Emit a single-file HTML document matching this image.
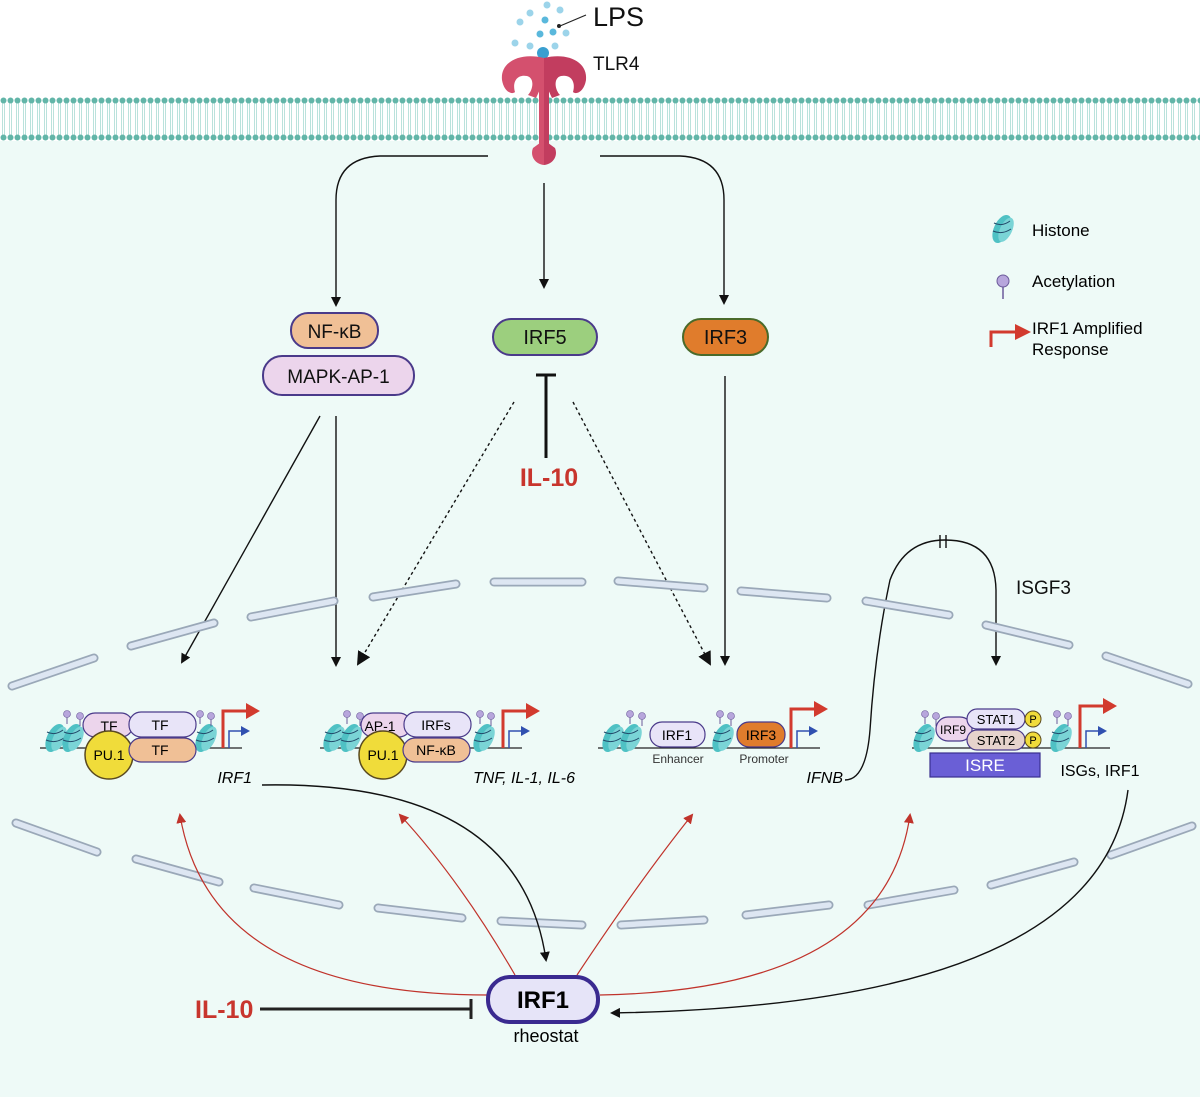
<!DOCTYPE html>
<html><head><meta charset="utf-8"><style>
html,body{margin:0;padding:0;background:#fff}
svg{display:block;font-family:"Liberation Sans",sans-serif}
</style></head><body>
<svg width="1200" height="1097" viewBox="0 0 1200 1097" xmlns="http://www.w3.org/2000/svg">
<defs>
<pattern id="lip" x="0" y="97" width="7" height="44" patternUnits="userSpaceOnUse">
<line x1="2.5" y1="4" x2="2.5" y2="40" stroke="#a8dbd4" stroke-width="0.8"/>
<line x1="4.5" y1="4" x2="4.5" y2="40" stroke="#a8dbd4" stroke-width="0.8"/>
<circle cx="3.5" cy="3.5" r="3" fill="#62b5a8"/>
<circle cx="3.5" cy="40.5" r="3" fill="#62b5a8"/>
</pattern>
<marker id="ah" markerWidth="10" markerHeight="10" refX="8" refY="5" orient="auto" markerUnits="userSpaceOnUse"><path d="M0,0 L10,5 L0,10 z" fill="#111"/></marker>
<marker id="ahr" markerWidth="10" markerHeight="10" refX="8" refY="5" orient="auto" markerUnits="userSpaceOnUse"><path d="M0,0 L10,5 L0,10 z" fill="#c0332b"/></marker>
<marker id="ahb" markerWidth="14" markerHeight="14" refX="12" refY="7" orient="auto" markerUnits="userSpaceOnUse"><path d="M0,0 L14,7 L0,14 z" fill="#111"/></marker>
<g id="hist">
<ellipse cx="0" cy="0" rx="8" ry="15" fill="#4fc1c4" transform="rotate(25)"/>
<ellipse cx="4" cy="-1" rx="6" ry="13" fill="#7ad4d6" transform="rotate(25)"/>
<path d="M-8,-6 Q0,-2 8,-8 M-9,2 Q0,6 9,0" stroke="#224a6a" stroke-width="1" fill="none"/>
</g>
<g id="ac"><line x1="0" y1="0" x2="0" y2="8" stroke="#6b5a9a" stroke-width="1"/><circle cx="0" cy="-2" r="3.5" fill="#b7a6dc" stroke="#6b5a9a" stroke-width="0.6"/></g>
</defs>
<!-- background -->
<rect x="0" y="120" width="1200" height="977" fill="#eefaf7"/>
<rect x="0" y="97" width="1200" height="44" fill="#ffffff"/>
<rect x="0" y="97" width="1200" height="44" fill="url(#lip)"/>
<!-- LPS -->
<g fill="#5ab8dc">
<circle cx="547" cy="5" r="3.5" opacity=".6"/><circle cx="530" cy="13" r="3.5" opacity=".6"/><circle cx="545" cy="20" r="3.5"/><circle cx="560" cy="10" r="3.5" opacity=".6"/><circle cx="520" cy="22" r="3.5" opacity=".6"/><circle cx="540" cy="34" r="3.5"/><circle cx="553" cy="32" r="3.5"/><circle cx="566" cy="33" r="3.5" opacity=".6"/><circle cx="515" cy="43" r="3.5" opacity=".6"/><circle cx="530" cy="46" r="3.5" opacity=".6"/><circle cx="555" cy="46" r="3.5" opacity=".6"/><circle cx="543" cy="53" r="6" fill="#3a9fd0"/>
</g>
<line x1="560" y1="26" x2="586" y2="15" stroke="#222" stroke-width="1.2"/><circle cx="559" cy="26" r="2" fill="#222"/>
<text x="593" y="26" font-size="27" fill="#111">LPS</text>
<text x="593" y="70" font-size="19" fill="#111">TLR4</text>
<!-- TLR4 -->
<g fill="#d4506e">
<path d="M544,58 C520,52 500,62 502,80 C504,92 512,95 515,92 C512,82 517,74 527,76 C535,78 533,90 528,95 L536,98 C540,90 544,80 544,70 Z"/>
<path d="M544,58 C568,52 588,62 586,80 C584,92 576,95 573,92 C576,82 571,74 561,76 C553,78 555,90 560,95 L552,98 C548,90 544,80 544,70 Z" fill="#c23d5f"/>
<rect x="539" y="70" width="5" height="78" fill="#d4506e"/><rect x="544" y="70" width="5" height="78" fill="#c23d5f"/>
<path d="M533,148 C530,155 534,164 544,165 L544,140 Z"/><path d="M555,148 C558,155 554,164 544,165 L544,140 Z" fill="#c23d5f"/>
</g>
<!-- top arrows -->
<g stroke="#111" stroke-width="1.4" fill="none">
<path d="M488,156 L380,156 Q336,158 336,200 L336,305" marker-end="url(#ah)"/>
<path d="M544,183 L544,287" marker-end="url(#ah)"/>
<path d="M600,156 L680,156 Q724,158 724,200 L724,303" marker-end="url(#ah)"/>
</g>
<!-- nodes -->
<rect x="291" y="313" width="87" height="35" rx="17" fill="#f0c096" stroke="#4a3a8a" stroke-width="2"/>
<text x="334.5" y="338" font-size="19" text-anchor="middle" fill="#111">NF-κB</text>
<rect x="263" y="356" width="151" height="39" rx="19" fill="#ecd5ec" stroke="#4a3a8a" stroke-width="2"/>
<text x="338.5" y="383" font-size="19" text-anchor="middle" fill="#111">MAPK-AP-1</text>
<rect x="493" y="319" width="104" height="36" rx="18" fill="#9ccf7e" stroke="#4a3a8a" stroke-width="2"/>
<text x="545" y="344" font-size="20" text-anchor="middle" fill="#111">IRF5</text>
<rect x="683" y="319" width="85" height="36" rx="18" fill="#e07c2c" stroke="#4a6a2a" stroke-width="2"/>
<text x="725.5" y="344" font-size="20" text-anchor="middle" fill="#111">IRF3</text>
<!-- IL-10 top -->
<line x1="546" y1="375" x2="546" y2="458" stroke="#111" stroke-width="3"/>
<line x1="536" y1="375" x2="556" y2="375" stroke="#111" stroke-width="3"/>
<text x="549" y="486" font-size="25" font-weight="bold" text-anchor="middle" fill="#c8352d">IL-10</text>
<!-- mid arrows -->
<g stroke="#111" stroke-width="1.4" fill="none">
<path d="M320,416 L182,662" marker-end="url(#ah)"/>
<path d="M336,416 L336,665" marker-end="url(#ah)"/>
<path d="M514,402 L358,664" stroke-dasharray="3,3" marker-end="url(#ahb)"/>
<path d="M573,402 L710,664" stroke-dasharray="3,3" marker-end="url(#ahb)"/>
<path d="M725,376 L725,664" marker-end="url(#ah)"/>
<path d="M845,780 Q866,780 870,730 Q875,650 890,580 Q905,540 945,540 Q995,540 996,590 L996,664" marker-end="url(#ah)"/>
</g>
<line x1="940" y1="535" x2="940" y2="548" stroke="#111" stroke-width="1.4"/><line x1="946" y1="535" x2="946" y2="548" stroke="#111" stroke-width="1.4"/>
<text x="1016" y="594" font-size="19" fill="#111">ISGF3</text>
<!-- nuclear envelope dashes -->
<g stroke="#9aa8b8" stroke-width="9" stroke-linecap="round" fill="none">
<path d="M12,686 L94,658 M131,646 L214,623 M251,617 L334,601 M373,597 L456,584 M494,582 L582,582 M618,581 L704,588 M741,591 L827,598 M866,601 L949,615 M986,625 L1069,645 M1106,656 L1188,684"/>
<path d="M16,823 L97,852 M136,859 L219,882 M254,888 L339,905 M378,908 L462,918 M501,921 L582,925 M621,925 L704,920 M746,915 L829,905 M868,905 L954,890 M991,885 L1074,862 M1111,855 L1192,826"/>
</g>
<g stroke="#dde6f2" stroke-width="5.5" stroke-linecap="round" fill="none">
<path d="M12,686 L94,658 M131,646 L214,623 M251,617 L334,601 M373,597 L456,584 M494,582 L582,582 M618,581 L704,588 M741,591 L827,598 M866,601 L949,615 M986,625 L1069,645 M1106,656 L1188,684"/>
<path d="M16,823 L97,852 M136,859 L219,882 M254,888 L339,905 M378,908 L462,918 M501,921 L582,925 M621,925 L704,920 M746,915 L829,905 M868,905 L954,890 M991,885 L1074,862 M1111,855 L1192,826"/>
</g>
<!-- Locus 1 -->
<g>
<line x1="40" y1="748" x2="242" y2="748" stroke="#222" stroke-width="1.2"/>
<use href="#hist" x="55" y="738"/><use href="#hist" x="72" y="738"/><use href="#hist" x="205" y="738"/>
<use href="#ac" x="67" y="716"/><use href="#ac" x="80" y="718"/><use href="#ac" x="200" y="716"/><use href="#ac" x="211" y="718"/>
<rect x="83" y="713" width="50" height="24" rx="12" fill="#ecd5ec" stroke="#4a3a8a" stroke-width="1.2"/>
<text x="109" y="731" font-size="14" text-anchor="middle">TF</text>
<rect x="129" y="712" width="67" height="25" rx="12" fill="#e8e4f8" stroke="#4a3a8a" stroke-width="1.2"/>
<text x="160" y="730" font-size="14" text-anchor="middle">TF</text>
<circle cx="109" cy="755" r="24" fill="#f0dc3a" stroke="#5a4a20" stroke-width="1.5"/>
<text x="109" y="760" font-size="14" text-anchor="middle">PU.1</text>
<rect x="129" y="738" width="67" height="24" rx="12" fill="#f0c096" stroke="#4a3a8a" stroke-width="1.2"/>
<text x="160" y="755" font-size="14" text-anchor="middle">TF</text>
<path d="M223,748 L223,711 L248,711" stroke="#d23a2e" stroke-width="3" fill="none"/><path d="M246,703 L260,711 L246,719 z" fill="#d23a2e"/>
<path d="M229,748 L229,731 L242,731" stroke="#3050b0" stroke-width="1.5" fill="none"/><path d="M241,726 L250,731 L241,736 z" fill="#3050b0"/>
<text x="252" y="783" font-size="16" font-style="italic" text-anchor="end">IRF1</text>
</g>
<!-- Locus 2 -->
<g>
<line x1="320" y1="748" x2="522" y2="748" stroke="#222" stroke-width="1.2"/>
<use href="#hist" x="333" y="738"/><use href="#hist" x="350" y="738"/><use href="#hist" x="483" y="738"/>
<use href="#ac" x="347" y="716"/><use href="#ac" x="360" y="718"/><use href="#ac" x="480" y="716"/><use href="#ac" x="491" y="718"/>
<rect x="361" y="713" width="50" height="24" rx="12" fill="#ecd5ec" stroke="#4a3a8a" stroke-width="1.2"/>
<text x="380" y="731" font-size="14" text-anchor="middle">AP-1</text>
<rect x="404" y="712" width="67" height="25" rx="12" fill="#e8e4f8" stroke="#4a3a8a" stroke-width="1.2"/>
<text x="436" y="730" font-size="14" text-anchor="middle">IRFs</text>
<circle cx="383" cy="755" r="24" fill="#f0dc3a" stroke="#5a4a20" stroke-width="1.5"/>
<text x="383" y="760" font-size="14" text-anchor="middle">PU.1</text>
<rect x="403" y="738" width="67" height="24" rx="12" fill="#f0c096" stroke="#4a3a8a" stroke-width="1.2"/>
<text x="436" y="755" font-size="14" text-anchor="middle">NF-κB</text>
<path d="M503,748 L503,711 L528,711" stroke="#d23a2e" stroke-width="3" fill="none"/><path d="M526,703 L540,711 L526,719 z" fill="#d23a2e"/>
<path d="M509,748 L509,731 L522,731" stroke="#3050b0" stroke-width="1.5" fill="none"/><path d="M521,726 L530,731 L521,736 z" fill="#3050b0"/>
<text x="575" y="783" font-size="16" font-style="italic" text-anchor="end">TNF, IL-1, IL-6</text>
</g>
<!-- Locus 3 -->
<g>
<line x1="598" y1="748" x2="820" y2="748" stroke="#222" stroke-width="1.2"/>
<use href="#hist" x="612" y="738"/><use href="#hist" x="630" y="738"/><use href="#hist" x="722" y="738"/>
<use href="#ac" x="630" y="716"/><use href="#ac" x="642" y="718"/><use href="#ac" x="720" y="716"/><use href="#ac" x="731" y="718"/>
<rect x="650" y="722" width="55" height="25" rx="12" fill="#e8e4f8" stroke="#4a3a8a" stroke-width="1.2"/>
<text x="677" y="740" font-size="14" text-anchor="middle">IRF1</text>
<rect x="737" y="722" width="48" height="25" rx="12" fill="#e07c2c" stroke="#4a3a8a" stroke-width="1.2"/>
<text x="761" y="740" font-size="14" text-anchor="middle">IRF3</text>
<text x="678" y="763" font-size="12" text-anchor="middle" fill="#333">Enhancer</text>
<text x="764" y="763" font-size="12" text-anchor="middle" fill="#333">Promoter</text>
<path d="M791,748 L791,709 L816,709" stroke="#d23a2e" stroke-width="3" fill="none"/><path d="M814,701 L828,709 L814,717 z" fill="#d23a2e"/>
<path d="M797,748 L797,731 L810,731" stroke="#3050b0" stroke-width="1.5" fill="none"/><path d="M809,726 L818,731 L809,736 z" fill="#3050b0"/>
<text x="843" y="783" font-size="16" font-style="italic" text-anchor="end">IFNB</text>
</g>
<!-- Locus 4 -->
<g>
<line x1="912" y1="748" x2="1110" y2="748" stroke="#222" stroke-width="1.2"/>
<use href="#hist" x="923" y="738"/><use href="#hist" x="1060" y="738"/>
<use href="#ac" x="925" y="716"/><use href="#ac" x="936" y="718"/><use href="#ac" x="1057" y="716"/><use href="#ac" x="1068" y="718"/>
<rect x="936" y="717" width="36" height="24" rx="12" fill="#ecd5ec" stroke="#4a3a8a" stroke-width="1.2"/>
<text x="953" y="734" font-size="12" text-anchor="middle">IRF9</text>
<rect x="967" y="709" width="58" height="20" rx="10" fill="#e8e4f8" stroke="#4a3a8a" stroke-width="1.2"/>
<text x="996" y="724" font-size="13" text-anchor="middle">STAT1</text>
<rect x="967" y="730" width="58" height="20" rx="10" fill="#e6d3cc" stroke="#4a3a8a" stroke-width="1.2"/>
<text x="996" y="745" font-size="13" text-anchor="middle">STAT2</text>
<circle cx="1033" cy="719" r="8" fill="#f0dc3a" stroke="#5a4a20"/><text x="1033" y="723" font-size="11" text-anchor="middle">P</text>
<circle cx="1033" cy="740" r="8" fill="#f0dc3a" stroke="#5a4a20"/><text x="1033" y="744" font-size="11" text-anchor="middle">P</text>
<rect x="930" y="753" width="110" height="24" fill="#6a5fd6" stroke="#3a2f90" stroke-width="1.2"/>
<text x="985" y="771" font-size="17" text-anchor="middle" fill="#fff">ISRE</text>
<path d="M1080,748 L1080,706 L1105,706" stroke="#d23a2e" stroke-width="3" fill="none"/><path d="M1103,698 L1117,706 L1103,714 z" fill="#d23a2e"/>
<path d="M1086,748 L1086,731 L1099,731" stroke="#3050b0" stroke-width="1.5" fill="none"/><path d="M1098,726 L1107,731 L1098,736 z" fill="#3050b0"/>
<text x="1100" y="776" font-size="16" text-anchor="middle">ISGs, IRF1</text>
</g>
<!-- bottom connectors -->
<g stroke="#111" stroke-width="1.4" fill="none">
<path d="M262,785 Q520,780 546,960" marker-end="url(#ah)"/>
<path d="M1128,790 Q1100,1005 612,1013" marker-end="url(#ah)"/>
</g>
<g stroke="#c0332b" stroke-width="1.2" fill="none">
<path d="M488,995 Q210,995 180,815" marker-end="url(#ahr)"/>
<path d="M515,975 Q460,880 400,815" marker-end="url(#ahr)"/>
<path d="M577,975 Q640,880 692,815" marker-end="url(#ahr)"/>
<path d="M600,995 Q885,990 910,815" marker-end="url(#ahr)"/>
</g>
<rect x="488" y="977" width="110" height="45" rx="22" fill="#e6e4f8" stroke="#3a2a90" stroke-width="4"/>
<text x="543" y="1008" font-size="24" font-weight="bold" text-anchor="middle">IRF1</text>
<text x="546" y="1042" font-size="18" text-anchor="middle">rheostat</text>
<line x1="260" y1="1009" x2="470" y2="1009" stroke="#222" stroke-width="3"/>
<line x1="471" y1="999" x2="471" y2="1019" stroke="#222" stroke-width="3"/>
<text x="195" y="1018" font-size="25" font-weight="bold" fill="#c8352d">IL-10</text>
<!-- legend -->
<use href="#hist" x="1002" y="229"/>
<text x="1032" y="236" font-size="17">Histone</text>
<g transform="translate(1003,283)"><line x1="0" y1="0" x2="0" y2="16" stroke="#6b5a9a" stroke-width="1.5"/><circle cx="0" cy="-2" r="6" fill="#b7a6dc" stroke="#6b5a9a"/></g>
<text x="1032" y="287" font-size="17">Acetylation</text>
<path d="M991,347 L991,332 L1018,332" stroke="#d23a2e" stroke-width="3" fill="none"/><path d="M1015,324 L1031,332 L1015,340 z" fill="#d23a2e"/>
<text x="1032" y="334" font-size="17">IRF1 Amplified</text>
<text x="1032" y="355" font-size="17">Response</text>
</svg>
</body></html>
